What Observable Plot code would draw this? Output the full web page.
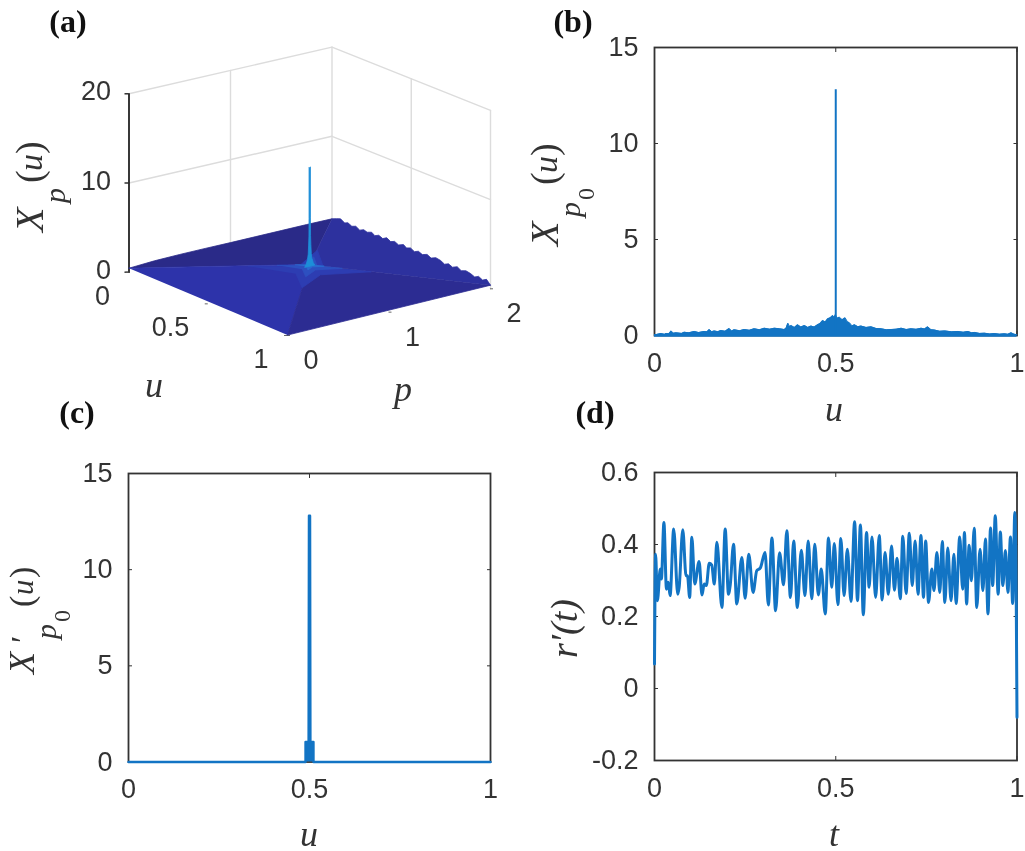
<!DOCTYPE html>
<html><head><meta charset="utf-8">
<script src="https://cdn.jsdelivr.net/npm/d3@7"></script>
<script src="https://cdn.jsdelivr.net/npm/@observablehq/plot@0.6"></script>
<style>
html,body{margin:0;padding:0;background:#fff}
#page{position:relative;width:1025px;height:851px;overflow:hidden;filter:blur(.45px)}
#page svg{position:absolute;background:transparent;max-width:none}
</style></head><body><div id="page"></div>
<script>
// ---------- data ----------
const spikeU = 0.5, spikeTop = 12.8;
const ticks01 = [0, 0.5, 1];
const ticks15 = [0, 5, 10, 15];
const ticksD = [-0.2, 0, 0.2, 0.4, 0.6];

// (b) envelope of X_p0(u): [u, value]
const bEnvelope = [[0,.03],[.012,.08],[.018,.1],[.028,.06],[.032,.1],[.04,.09],[.046,.24],[.052,.12],[.06,.14],[.075,.11],[.082,.17],[.095,.14],[.11,.21],[.122,.15],[.137,.21],[.145,.19],[.151,.31],[.158,.2],[.165,.24],[.175,.2],[.183,.26],[.195,.22],[.206,.36],[.213,.24],[.22,.3],[.235,.25],[.248,.31],[.262,.27],[.275,.35],[.29,.3],[.303,.38],[.318,.33],[.331,.38],[.345,.35],[.358,.31],[.363,.38],[.368,.64],[.373,.46],[.377,.52],[.386,.42],[.395,.56],[.404,.44],[.414,.52],[.423,.42],[.432,.49],[.441,.44],[.45,.56],[.457,.62],[.464,.78],[.471,.7],[.478,.87],[.485,.92],[.492,1.04],[.496,.95],[.499,1.08],[.504,.9],[.51,.95],[.518,.82],[.526,.92],[.532,.72],[.538,.66],[.545,.5],[.552,.56],[.561,.46],[.57,.49],[.584,.42],[.598,.45],[.612,.36],[.625,.35],[.64,.3],[.653,.31],[.667,.33],[.681,.38],[.695,.31],[.708,.35],[.722,.32],[.736,.38],[.745,.34],[.754,.45],[.763,.3],[.773,.28],[.787,.22],[.801,.24],[.82,.19],[.837,.21],[.852,.17],[.865,.21],[.875,.14],[.883,.16],[.897,.11],[.911,.12],[.925,.08],[.938,.1],[.952,.07],[.966,.09],[.975,.06],[.984,.14],[.992,.07],[1,.04]];

// (c) X'_p0(u): [u, value]
const cShape = [[0,0],[.489,0],[.489,1.04],[.4975,1.04],[.4985,12.8],[.5015,12.8],[.5025,1.04],[.511,1.04],[.511,0],[1,0]];

// (d) r'(t): [t, value]
const dCurve = [[0,.068],[.003,.373],[.008,.244],[.016,.332],[.019,.304],[.026,.461],[.033,.276],[.038,.295],[.043,.258],[.053,.443],[.064,.262],[.068,.281],[.078,.441],[.087,.313],[.091,.313],[.097,.253],[.103,.42],[.111,.29],[.123,.353],[.131,.26],[.137,.29],[.143,.286],[.151,.348],[.158,.343],[.165,.29],[.172,.406],[.186,.225],[.195,.443],[.204,.262],[.209,.288],[.218,.401],[.227,.235],[.241,.364],[.25,.251],[.26,.373],[.272,.267],[.282,.327],[.292,.335],[.305,.378],[.314,.232],[.324,.418],[.334,.216],[.345,.377],[.356,.288],[.365,.438],[.375,.253],[.384,.41],[.394,.225],[.405,.384],[.415,.258],[.424,.41],[.434,.249],[.442,.401],[.452,.26],[.46,.332],[.471,.207],[.48,.418],[.489,.281],[.496,.403],[.506,.233],[.514,.417],[.523,.258],[.532,.387],[.542,.242],[.552,.463],[.56,.244],[.568,.454],[.576,.205],[.585,.433],[.592,.281],[.6,.421],[.61,.253],[.62,.425],[.628,.246],[.636,.378],[.645,.262],[.654,.396],[.662,.273],[.669,.362],[.678,.249],[.685,.423],[.694,.264],[.703,.431],[.711,.286],[.719,.41],[.727,.262],[.735,.425],[.742,.253],[.748,.41],[.756,.239],[.765,.332],[.771,.272],[.779,.378],[.787,.267],[.794,.408],[.801,.239],[.809,.39],[.818,.244],[.826,.373],[.832,.236],[.842,.421],[.85,.276],[.855,.433],[.861,.235],[.868,.398],[.874,.299],[.882,.445],[.889,.225],[.898,.387],[.906,.272],[.913,.415],[.92,.207],[.927,.446],[.933,.286],[.94,.48],[.948,.262],[.954,.435],[.961,.286],[.968,.383],[.975,.267],[.982,.421],[.988,.236],[.994,.489],[.998,.235],[1,-.08]];

// (a) surface heights along the edges of the (u,p) square
const edgeBackRight = [[0,.75],[.03,.98],[.054,1.13],[.08,.85],[.1,1.02],[.125,.8],[.15,.98],[.175,.72],[.2,.95],[.222,.82],[.25,1.02],[.27,.78],[.295,1.0],[.32,.8],[.345,1.08],[.37,.82],[.395,1.02],[.42,.8],[.451,1.06],[.47,.82],[.495,1.0],[.52,.76],[.545,.98],[.57,.78],[.6,1.02],[.625,.78],[.655,1.04],[.685,.94],[.71,.7],[.735,.92],[.76,.72],[.79,.98],[.815,.72],[.845,.92],[.874,.82],[.9,.62],[.925,.86],[.95,.62],[.975,.88],[1,.4]];
const edgeBackLeft = [[0,.45],[.25,.62],[.5,.68],[.75,.7],[1,.7],[1.25,.72],[1.5,.74],[1.75,.76],[2,.75]];
const centerZ = 1.8;
// spike of panel (a): [half width in p, z]
const spikeA = [[.007,12.7],[.007,7],[.008,5],[.011,4],[.015,3],[.022,2.4],[.035,1.9],[.05,1.6]];
// glow round the spike: [reach along the diagonals, colour]
const glowA = [[.34,"#2d3db2"],[.18,"#2d50c0"],[.08,"#2a6cd0"]];
const zTicksA = [0, 10, 20], uTicksA = [0, 0.5, 1], pTicksA = [0, 1, 2];
// grid lines of the two back walls, as [u1,p1,z1,u2,p2,z2]
const wallLines = [[0,0,20,0,2,20],[0,0,10,0,2,10],[0,1,0,0,1,20],[0,2,0,0,2,20],[0,2,20,1,2,20],[0,2,10,1,2,10],[.5,2,0,.5,2,20],[1,2,0,1,2,20]];

// ---------- helpers ----------
const page = document.getElementById("page");
const ink = "#333333";
const baseStyle = {fontFamily:"'Liberation Sans',Arial,sans-serif", fontSize:"27px", color:ink, background:"transparent"};
const mL=70, mR=9, mT=14, mB=60;
function place(svg, left, top){ svg.style.left=left+"px"; svg.style.top=top+"px"; page.appendChild(svg); }
const fmt = d => String(d);

function panel(box, xDomain, yDomain, yTicks, marks){
  const plot = Plot.plot({
    width: box.w+mL+mR, height: box.h+mT+mB,
    marginLeft:mL, marginRight:mR, marginTop:mT, marginBottom:mB,
    style: baseStyle,
    x:{domain:xDomain, label:null}, y:{domain:yDomain, label:null},
    marks:[
      Plot.frame({stroke:ink, strokeWidth:1.8}),
      Plot.axisX({anchor:"bottom", ticks:ticks01, tickSize:0, tickPadding:17, tickFormat:fmt, label:null, stroke:"none"}),
      Plot.axisY({anchor:"left", ticks:yTicks, tickSize:0, tickPadding:16, tickFormat:fmt, label:null, stroke:"none"}),
      Plot.axisX({anchor:"bottom", ticks:ticks01, tickSize:-4, text:null, label:null, stroke:ink}),
      Plot.axisX({anchor:"top", ticks:ticks01, tickSize:-4, text:null, label:null, stroke:ink}),
      Plot.axisY({anchor:"left", ticks:yTicks, tickSize:-4, text:null, label:null, stroke:ink}),
      Plot.axisY({anchor:"right", ticks:yTicks, tickSize:-4, text:null, label:null, stroke:ink}),
      ...marks
    ]
  });
  place(plot, box.x-mL, box.y-mT);
}

// ---------- panel (b) ----------
const blue = "#1274c4";
panel({x:653.5,y:47,w:362.5,h:288}, [0,1],[0,15],ticks15,[
  Plot.areaY(bEnvelope,{x:d=>d[0], y:d=>d[1], fill:blue}),
  Plot.lineY(bEnvelope,{x:d=>d[0], y:d=>d[1], stroke:blue, strokeWidth:1}),
  Plot.ruleY([0],{stroke:blue, strokeWidth:2.4}),
  Plot.ruleX([spikeU],{y1:0, y2:spikeTop, stroke:blue, strokeWidth:2})
]);

// ---------- panel (c) ----------
panel({x:128,y:472.5,w:362,h:288.5}, [0,1],[0,15],ticks15,[
  Plot.areaY(cShape,{x:d=>d[0], y:d=>d[1], fill:blue}),
  Plot.lineY(cShape,{x:d=>d[0], y:d=>d[1], stroke:blue, strokeWidth:2.4})
]);

// ---------- panel (d) ----------
panel({x:653.5,y:472,w:362.5,h:288}, [0,1],[-0.2,0.6],ticksD,[
  Plot.lineY(dCurve,{x:d=>d[0], y:d=>d[1], stroke:blue, strokeWidth:3, curve:"monotone-x"})
]);

// ---------- panel (a): 3-D view projected to the page ----------
const P = (u,p,z) => [128.5+158.5*u+101.5*p, 271.7+63.3*u-23.35*p-8.92*z];
const poly = pts => pts.map(d => P(...d));
const backRight = edgeBackRight.map(([u,z]) => [u,2,z]);
const backLeft = edgeBackLeft.map(([p,z]) => [0,p,z]);
const C = [.5,1,centerZ], L=[0,0,.45], B=[1,0,.05], R=[1,2,.4];
const sectorTop = poly([...backLeft, C]);
const sectorRight = poly([...backRight, C]);
const sectorBottom = poly([C, B, R]);
const sectorLeft = poly([L, C, B]);
const spikePoly = poly([...spikeA.map(([w,z]) => [.5,1-w,z]), ...spikeA.slice().reverse().map(([w,z]) => [.5,1+w,z])]);
const glows = glowA.map(([s,c]) => {
  const zd = centerZ*(1-s)+.3*s, zm = centerZ*(1-s*1.1);
  return {c, pts:poly([
    [.5-s/2,1-s,zd],[.5-s*.2,1,zm],[.5-s/2,1+s,zd],[.5,1+s*.4,zm],
    [.5+s/2,1+s,zd],[.5+s*.2,1,zm],[.5+s/2,1-s,zd],[.5,1-s*.4,zm]])};
});
const area = (pts,fill) => Plot.line(pts,{x:d=>d[0],y:d=>d[1],fill,stroke:fill,strokeWidth:.8});
const aX = {domain:[0,530],range:[0,530],axis:null}, aY = {domain:[0,420],range:[0,420],axis:null};
const plotA = Plot.plot({
  width:530, height:420, margin:0, style:baseStyle, x:aX, y:aY,
  marks:[
    ...wallLines.map(s => Plot.line([P(s[0],s[1],s[2]),P(s[3],s[4],s[5])],{x:d=>d[0],y:d=>d[1],stroke:"#dcdcdc",strokeWidth:1.4})),
    Plot.line([P(0,0,0),P(0,0,20)],{x:d=>d[0],y:d=>d[1],stroke:"#222",strokeWidth:1.8}),
    Plot.ruleY(zTicksA,{y:d=>P(0,0,d)[1],x1:d=>P(0,0,d)[0]-4,x2:d=>P(0,0,d)[0],stroke:"#222",strokeWidth:1.4}),
    Plot.ruleY(uTicksA,{y:d=>P(d,0,0)[1],x1:d=>P(d,0,0)[0]-3,x2:d=>P(d,0,0)[0],stroke:"#666",strokeWidth:1}),
    Plot.ruleY(pTicksA,{y:d=>P(1,d,0)[1],x1:d=>P(1,d,0)[0],x2:d=>P(1,d,0)[0]+3,stroke:"#666",strokeWidth:1}),
    area(sectorTop,"#2a2a88"),
    area(sectorRight,"#2d319e"),
    area(sectorLeft,"#2d33aa"),
    area(sectorBottom,"#2c2c92"),
    ...glows.map(g => area(g.pts,g.c)),
    area(spikePoly,"#1d8ed8"),
    Plot.text(zTicksA,{x:d=>P(0,0,d)[0]-18,y:d=>P(0,0,d)[1]-2,text:fmt,textAnchor:"end",fontSize:27}),
    Plot.text(uTicksA,{x:d=>P(d,0,0)[0]-19,y:d=>P(d,0,0)[1]+24,text:fmt,textAnchor:"end",fontSize:27}),
    Plot.text(pTicksA,{x:d=>P(1,d,0)[0]+16,y:d=>P(1,d,0)[1]+25,text:fmt,textAnchor:"start",fontSize:27})
  ]
});
place(plotA,0,0);

// ---------- hand-set mathematical labels and panel letters ----------
const overlay = d3.create("svg").attr("width",1025).attr("height",851).style("left","0px").style("top","0px");
function vtext(str,x,y,size,it=true){
  overlay.append("text").text(str).attr("transform",`translate(${x},${y}) rotate(-90)`)
    .attr("font-family","'Liberation Serif',serif").attr("font-style",it?"italic":"normal")
    .attr("font-size",size).attr("fill",ink);
}
function htext(str,x,y,size,opts={}){
  overlay.append("text").text(str).attr("x",x).attr("y",y).attr("text-anchor",opts.anchor||"middle")
    .attr("font-family","'Liberation Serif',serif").attr("font-style",opts.bold?"normal":"italic")
    .attr("font-weight",opts.bold?"bold":"normal").attr("font-size",size).attr("fill",opts.bold?"#111":ink);
}
function xpLabel(bx, by, sub0, prime, k=1){
  vtext("X",bx,by,40*k);
  let y = by-31;
  if(prime){ vtext("\u2032",bx,y,38*k,false); y-=6; }
  vtext("p",bx+22,y+2,30);
  y-=14;
  if(sub0){ vtext("0",bx+36,y-1,24,false); y-=12; }
  y-=4;
  vtext("(",bx-1,y,38*k,false);
  vtext("u",bx-1,y-12,34*k);
  vtext(")",bx-1,y-29,38*k,false);
}
xpLabel(43,232,false,false);
xpLabel(558,246,true,false);
xpLabel(34,674,true,true,.9);
vtext("r\u2032(t)",577,658,38);
htext("u",154,397,36); htext("p",403,401,36);
htext("u",834,421,36); htext("u",309,846,36); htext("t",834,846,36);
htext("(a)",68,32,32,{bold:true}); htext("(b)",573,32,32,{bold:true});
htext("(c)",77,423,32,{bold:true}); htext("(d)",595,423,32,{bold:true});
page.appendChild(overlay.node());
</script></body></html>
